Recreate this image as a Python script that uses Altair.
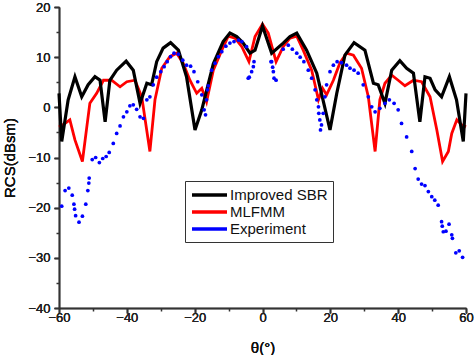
import altair as alt
import pandas as pd

# ---- data ----
sbr_x = [-60, -59.2, -57.3, -55.3, -53.3, -51.4, -49.4, -47.9, -46.4, -45, -43, -40.2, -38.1, -36.1,
         -34.1, -32.7, -31.2, -29.3, -27.1, -24.8, -22.4, -19.9, -17.9, -14.5, -11.6, -9.6, -7.6, -5.7,
         -3.7, -2.2, 0, 2.7, 6.1, 8.1, 10.1, 13.0, 16.0, 19.9, 21.9, 24.3, 27.0, 30.2, 32.7, 34.1, 36.1,
         38.1, 40.5, 42.5, 44.5, 46.4, 47.9, 49.4, 50.9, 52.8, 55.1, 57.2, 59.2, 60]
sbr_y = [2.8, -6.8, 1.5, 6.1, 2.1, 4.5, 6.1, 5.4, -2.9, 5.4, 7.4, 9.2, 7.4, 0.8,
         4.8, 4.5, 9.1, 11.8, 12.9, 11.4, 6.1, -4.5, -0.5, 8.7, 13.1, 14.8, 14.1, 12.8,
         10.8, 11.4, 16.2, 10.8, 12.8, 14.1, 14.8, 11.4, 6.8, -4.5, 2.8, 10.4, 12.9, 11.4, 4.8, 4.5, 0.8,
         7.4, 9.3, 7.8, 6.8, -2.9, 6.1, 5.8, 3.5, 2.1, 6.1, 1.5, -6.8, 2.8]

mlfmm_x = [-60, -58.2, -56.8, -55.3, -53.1, -51.8, -50.9, -48.9, -46.9, -44.5, -42, -40, -37.6, -35.6,
           -33.2, -31.7, -29.7, -27.3, -25.3, -23.4, -21.4, -19.4, -17.9, -16.5, -14.5, -12.0, -10.1,
           -8.1, -6.1, -4.0, -2.2, 0, 1.7, 4.0, 6.1, 8.1, 10.1, 12.0, 14.5, 16.5, 17.7, 18.9, 20.9, 22.8,
           24.8, 26.8, 29.2, 31.2, 33.2, 34.6, 36.1, 38.1, 40, 42, 44.5, 46.9, 49.4, 51.4, 53.1, 54.8,
           55.8, 57.3, 58.7, 60]
mlfmm_y = [-3.9, -3.2, -2.5, -6.5, -10.8, -3.9, 0.8, 2.8, 5.4, 5.4, 4.1, 5.1, 5.4, 2.1,
           -8.8, 1.5, 7.8, 10.1, 10.8, 8.8, 5.4, 2.8, 3.8, 1.1, 7.4, 11.4, 14.2,
           13.8, 12.1, 9.1, 14.1, 16.6, 14.8, 9.1, 12.1, 13.8, 14.2, 11.4, 7.4, 1.5, 3.8, 2.5, 5.4, 8.8,
           10.8, 10.4, 7.8, 2.1, -8.8, 1.5, 4.8, 6.4, 5.4, 4.3, 5.4, 5.1, 2.1, -4.5, -10.8, -8.8,
           -5.2, -2.5, -3.5, -3.9]

exp_x = [-59.2, -58.2, -57.1, -56.1, -55.6, -55.4, -55.1, -54.1, -53.1, -52.1, -51.5, -51.2, -51.1,
         -50.2, -49.2, -48.1, -47.1, -46.1, -45.2, -44, -43, -42, -41, -40, -39.1, -38.1, -37.1, -36.1,
         -35.1, -34.1, -33.2, -32.2, -31.2, -30, -29, -28.1, -27.1, -26.1, -24.8, -23.5, -22.4, -21.2,
         -20.2, -19.1, -17.9, -17.2, -16.8, -16.5, -16.2, -16, -15, -14, -13, -12, -10.8, -9.6, -8.4,
         -7.1, -6.1, -4.7, -4.2, -3.9, -3.2, -2.7, -2.5, 2.5, 2.7, 3.0, 3.2, 3.4, 4.0, 6.1, 7.6, 8.8,
         10.1, 11.1, 12.2, 13.5, 14.5, 15.5, 16.0, 16.5, 16.6, 16.9, 17.1, 17.4, 17.9, 18.4, 18.9, 19.9,
         20.9, 22.0, 23.3, 24.8, 25.8, 27.0, 28.2, 29.7, 31.2, 32.2, 33.2, 34.6, 36.1, 37.4, 38.8, 40.0,
         41.0, 42.5, 44.0, 45.0, 45.9, 46.9, 47.9, 48.9, 49.9, 50.8, 51.8, 52.8, 53.0, 53.3, 54.1, 55.0,
         55.8, 56.0, 57.0, 58.0, 59.0]
exp_y = [-19.7, -16.6, -16.1, -17.5, -19.3, -20.3, -21.6, -22.9, -21.7, -19.3, -16.6, -15.1, -14.1,
         -10.4, -10.0, -11.0, -10.2, -9.8, -9.0, -7.2, -5.2, -3.7, -1.9, -0.9, 0.3, 0.5, -0.4, -1.9,
         -2.2, 1.5, 2.1, 4.5, 6.0, 7.1, 8.1, 9.1, 10.1, 10.8, 10.6, 9.4, 8.4, 8.2,
         7.1, 5.1, 2.5, -0.5, -1.5, 1.5, 3.5, 4.3, 7.4, 8.8, 10.1, 11.1, 12.2, 12.8, 13.1,
         13.4, 13.1, 12.1, 5.8, 6.0, 7.1, 8.1, 9.1, 9.1, 9.1, 8.0, 7.1, 5.8, 5.4, 11.6, 12.4, 11.6,
         10.8, 10.0, 9.1, 7.4, 5.8, 3.5, 1.5, 0.1, -1.2, -2.5, -4.5, -3.5, -1.2, 2.1, 4.5, 7.1,
         8.4, 9.1, 8.9, 8.4, 7.8, 7.4, 6.8, 4.5, 2.1, 0.1, -0.9, -0.2, 0.8, 1.5, 0.8, -0.5,
         -3.2, -5.9, -8.8, -12.2, -14.3, -15.3, -15.6, -16.8, -17.8, -18.5, -19.5, -22.8, -23.7, -24.8, -24.7, -23.3,
         -25.4, -26.1, -29.0, -28.6, -29.9]

series_names = ["Improved SBR", "MLFMM", "Experiment"]
series_colors = ["#000000", "#ff0000", "#0000ff"]

x_major_ticks = [-60, -40, -20, 0, 20, 40, 60]
x_minor_ticks = [-50, -30, -10, 10, 30, 50]
y_major_ticks = [-40, -30, -20, -10, 0, 10, 20]
y_minor_ticks = [-35, -25, -15, -5, 5, 15]

df_sbr = pd.DataFrame({"theta": sbr_x, "rcs": sbr_y, "series": series_names[0]})
df_mlfmm = pd.DataFrame({"theta": mlfmm_x, "rcs": mlfmm_y, "series": series_names[1]})
df_exp = pd.DataFrame({"theta": exp_x, "rcs": exp_y, "series": series_names[2]})

FONT = "Arial"
AX = "#333333"

xscale = alt.Scale(domain=[-60, 60], nice=False, zero=False)
yscale = alt.Scale(domain=[-40, 20], nice=False, zero=False)

common_axis = dict(grid=False, domainColor=AX, domainWidth=1.5, tickColor=AX, tickWidth=1.5,
                   labelFont=FONT, labelFontSize=13, labelColor="#222222", titleFont=FONT,
                   titleFontSize=15, titleFontWeight="normal", titleColor="#111111")

x_major = alt.X("theta:Q", scale=xscale,
                axis=alt.Axis(values=x_major_ticks, tickSize=5, labelPadding=-2, title="θ(°)",
                              titlePadding=16, labelFlush=False, orient="bottom", **common_axis))
y_major = alt.Y("rcs:Q", scale=yscale,
                axis=alt.Axis(values=y_major_ticks, tickSize=5, labelPadding=4, title="RCS(dBsm)",
                              titlePadding=10, labelFlush=False, orient="left", **common_axis))

color = alt.Color("series:N",
                  scale=alt.Scale(domain=series_names, range=series_colors),
                  legend=alt.Legend(title=None, orient="none", legendX=126, legendY=174,
                                    direction="vertical", symbolType="M-1,0H4", symbolSize=196,
                                    symbolStrokeWidth=3.5, labelFont=FONT, labelFontSize=15,
                                    labelColor="#111111", strokeColor=AX, fillColor="white",
                                    padding=5, rowPadding=0, labelOffset=22))

red_line = alt.Chart(df_mlfmm).mark_line(strokeWidth=2.8).encode(
    x=x_major, y=y_major, color=color, order="theta:Q")
black_line = alt.Chart(df_sbr).mark_line(strokeWidth=3.2).encode(
    x=x_major, y=y_major, color=color, order="theta:Q")
blue_pts = alt.Chart(df_exp).mark_circle(size=14, opacity=1, color="#0000ff").encode(
    x=x_major, y=y_major)

minor = alt.Chart(df_exp).mark_circle(opacity=0, size=1).encode(
    x=alt.X("theta:Q", scale=xscale,
            axis=alt.Axis(values=x_minor_ticks, tickSize=3, labels=False, domain=False, title=None,
                          orient="bottom", grid=False, tickColor=AX, tickWidth=1.5)),
    y=alt.Y("rcs:Q", scale=yscale,
            axis=alt.Axis(values=y_minor_ticks, tickSize=3, labels=False, domain=False, title=None,
                          orient="left", grid=False, tickColor=AX, tickWidth=1.5)),
)

chart = alt.layer(red_line, black_line, blue_pts, minor).resolve_axis(
    x="independent", y="independent"
).properties(
    width=407, height=301,
    autosize=alt.AutoSizeParams(type="none"),
    padding={"left": 59, "top": 7, "right": 8, "bottom": 47},
    background="white",
).configure_view(stroke=None)

chart.save("out.html", embed_options={"renderer": "svg", "actions": False})
